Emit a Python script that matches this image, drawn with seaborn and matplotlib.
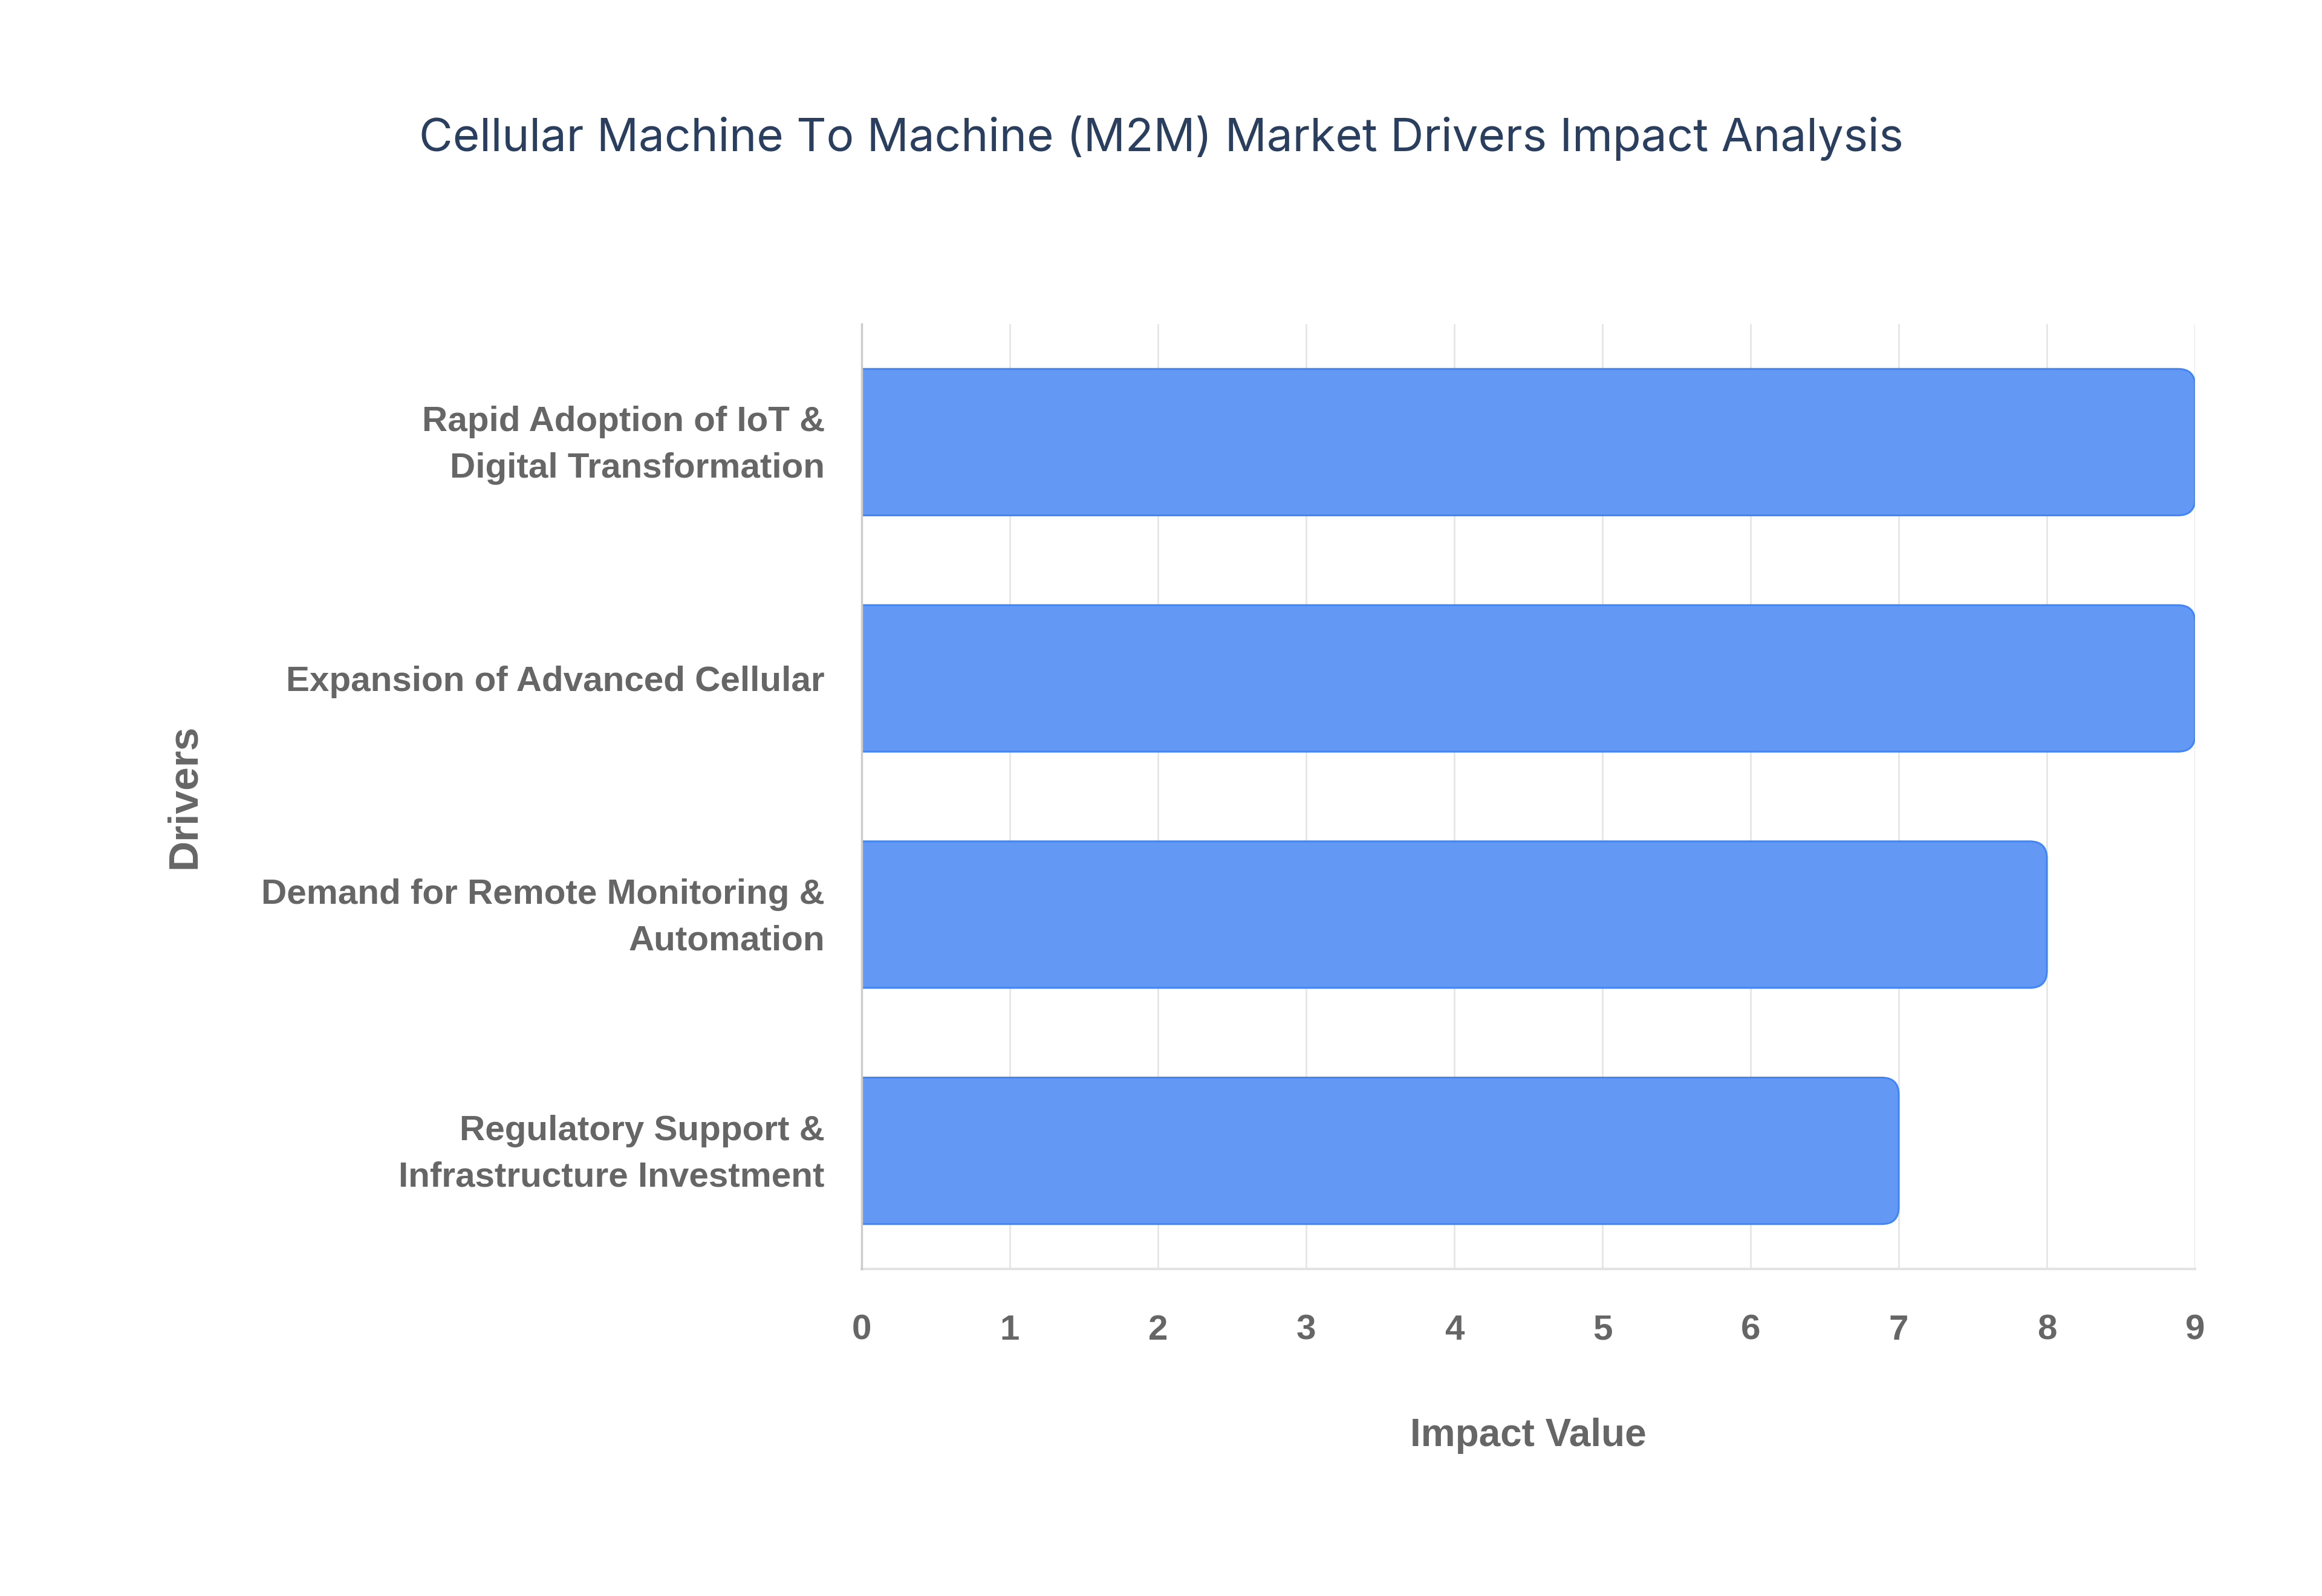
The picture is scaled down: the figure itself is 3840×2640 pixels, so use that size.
import matplotlib
matplotlib.use("Agg")
import matplotlib.pyplot as plt
import matplotlib.transforms as mtransforms
import seaborn as sns
import pandas as pd
from matplotlib.patches import FancyBboxPatch

drivers = [
    "Rapid Adoption of IoT &\nDigital Transformation",
    "Expansion of Advanced Cellular",
    "Demand for Remote Monitoring &\nAutomation",
    "Regulatory Support &\nInfrastructure Investment",
]
impact = [9, 9, 8, 7]
x_ticks = [0, 1, 2, 3, 4, 5, 6, 7, 8, 9]

df = pd.DataFrame({"Drivers": drivers, "Impact Value": impact})

sns.set_theme(style="white")
plt.rcParams["font.family"] = ["Liberation Sans", "DejaVu Sans"]

DPI = 100
fig = plt.figure(figsize=(38.4, 26.4), dpi=DPI)
ax = fig.add_axes([1425 / 3840, 1 - 2099 / 2640, (3630 - 1425) / 3840, (2099 - 536) / 2640])

FILL = "#6399f5"
EDGE = "#4285f4"
GRAY = "#666666"

sns.barplot(data=df, y="Drivers", x="Impact Value", orient="h", ax=ax,
            color=FILL, width=0.62, saturation=1)

ax.set_xlim(0, 9)
ax.set_ylim(3.5, -0.5)

# rounded right ends
px_per_x = (3630 - 1425) / 9.0
px_per_y = (2099 - 536) / 4.0
radius_px = 28
rx = radius_px / px_per_x
aspect = (1 / px_per_y) / (1 / px_per_x)
for p in list(ax.patches):
    x0, y0 = p.get_x(), p.get_y()
    w, h = p.get_width(), p.get_height()
    fb = FancyBboxPatch((x0 - 0.5, y0), w + 0.5, h,
                        boxstyle=f"round,pad=0,rounding_size={rx}",
                        mutation_aspect=aspect,
                        facecolor=FILL, edgecolor=EDGE, linewidth=2.2,
                        zorder=2, clip_on=True)
    ax.add_patch(fb)
    fb.set_clip_path(ax.patch)
    p.set_visible(False)

ax.set_xticks(x_ticks)
ax.grid(axis="x", color="#e6e6e6", linewidth=2)
ax.grid(axis="y", visible=False)
ax.set_axisbelow(True)

for s in ["top", "right"]:
    ax.spines[s].set_visible(False)
ax.spines["left"].set_color("#cccccc")
ax.spines["left"].set_linewidth(2.5)
ax.spines["bottom"].set_color("#e3e3e3")
ax.spines["bottom"].set_linewidth(3)
ax.spines["left"].set_zorder(3)

ax.tick_params(axis="x", length=19, width=2, color="#e6e6e6", pad=35,
               labelsize=42, labelcolor=GRAY)
ax.tick_params(axis="y", length=0, pad=44, labelsize=42, labelcolor=GRAY)
for lab in ax.get_xticklabels() + ax.get_yticklabels():
    lab.set_fontweight("bold")
up = mtransforms.ScaledTranslation(0, 12 / DPI, fig.dpi_scale_trans)
for lab in ax.get_yticklabels():
    lab.set_linespacing(1.55)
    if "\n" in lab.get_text():
        lab.set_transform(lab.get_transform() + up)

ax.set_xlabel("Impact Value", fontsize=46, fontweight="bold", color=GRAY, labelpad=84)
ax.set_ylabel("Drivers", fontsize=50, fontweight="bold", color=GRAY)
ax.yaxis.set_label_coords((305 - 1425) / 2205, 0.5)
ax.yaxis.label.set_verticalalignment("center")

fig.text(0.5, 1 - 228 / 2640, "Cellular Machine To Machine (M2M) Market Drivers Impact Analysis",
         ha="center", va="center", fontsize=55, color="#2a3f5f", family=["Inter", "DejaVu Sans"])

fig.savefig("out.png", dpi=DPI, facecolor="white")
